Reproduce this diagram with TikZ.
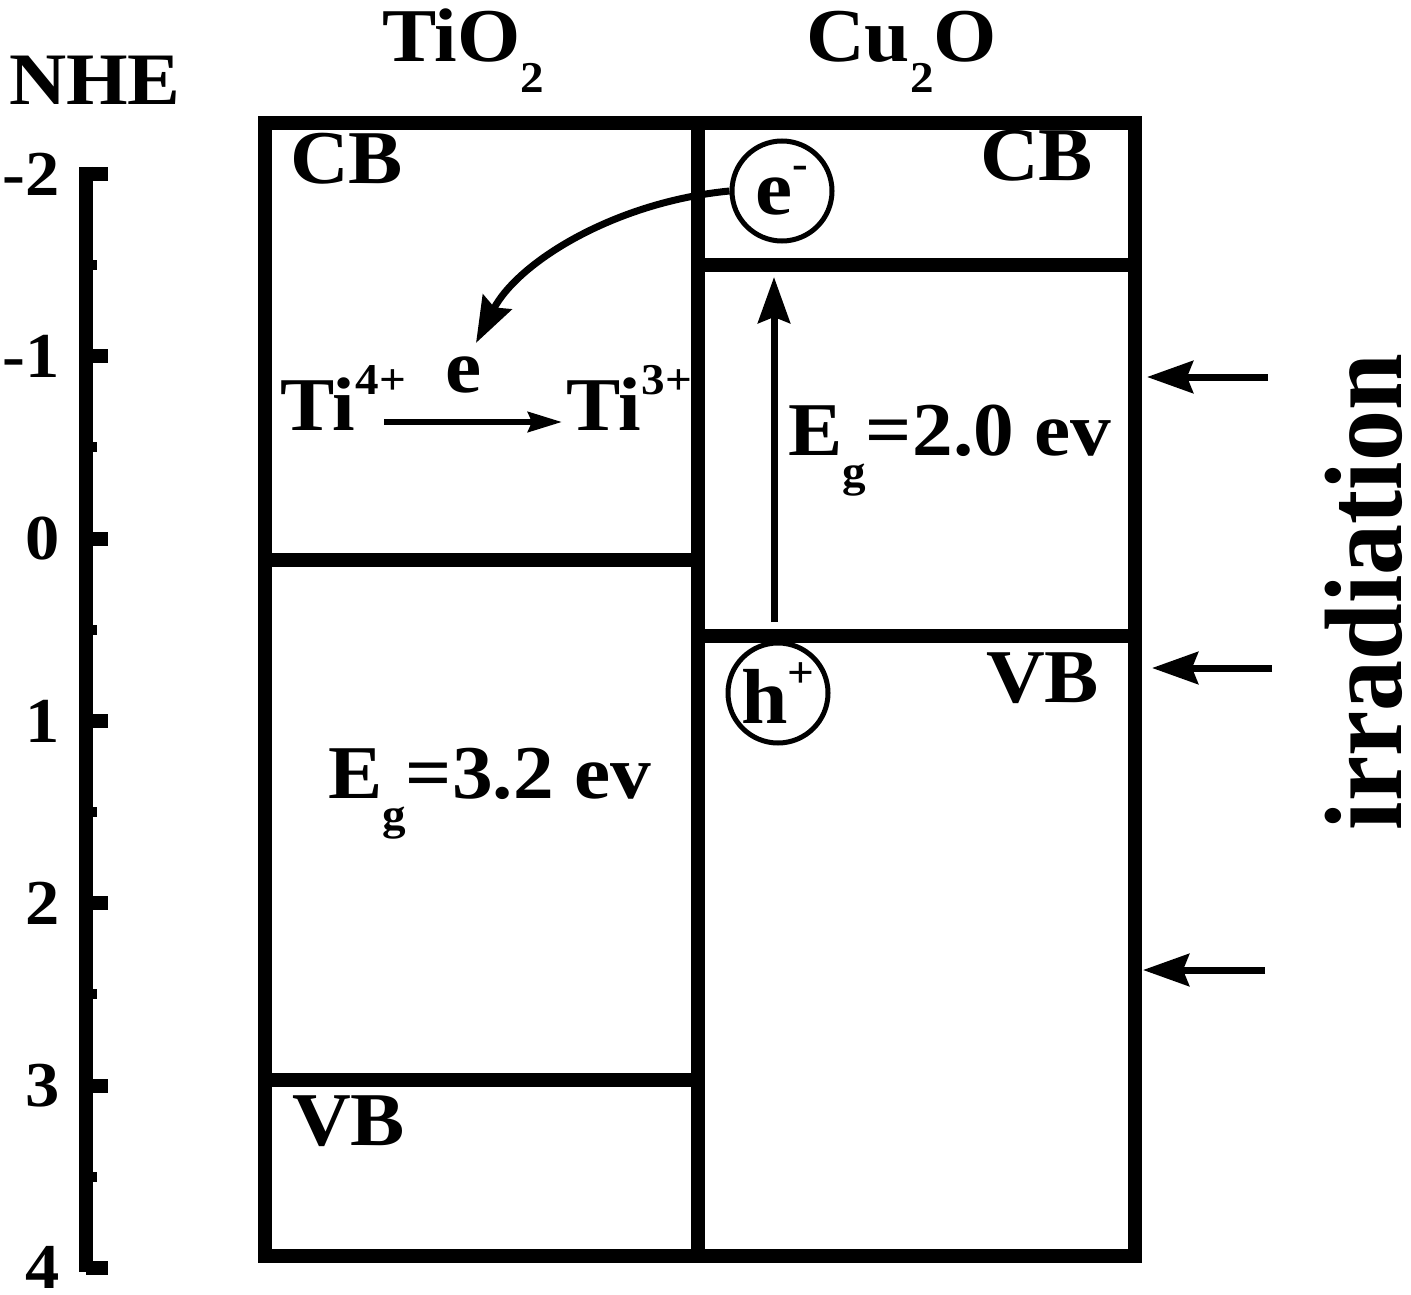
\documentclass[tikz,border=0pt]{standalone}
\usepackage{fontspec}
\usepackage{graphicx}
\setmainfont{Liberation Serif}[FakeStretch=1.07]
\newfontfamily\uprightfont{Liberation Serif}
\usetikzlibrary{arrows.meta,positioning}
\newcommand{\lowidx}[1]{\raisebox{-31pt}{\fontsize{44}{44}\selectfont #1}}
\newcommand{\highidx}[1]{\raisebox{36pt}{\fontsize{44}{44}\selectfont #1}}
\tikzstyle{band} = [line width=14pt]
\tikzstyle{bandtext} = [font=\fontsize{76}{76}\selectfont\bfseries, inner sep=0pt, anchor=base west]
\tikzstyle{scaletext} = [font=\fontsize{64}{64}\selectfont\bfseries, inner sep=0pt, anchor=east]
\tikzstyle{carrier} = [circle, draw, line width=5pt, minimum size=100pt, inner sep=0pt, font=\fontsize{78}{78}\selectfont\bfseries]
\tikzstyle{arrow} = [line width=7pt, -{Stealth[length=46pt,width=32pt,inset=6pt]}]
\tikzstyle{thinarrow} = [line width=6pt, -{Stealth[length=34pt,width=20pt,inset=4pt]}]
\begin{document}
\begin{tikzpicture}[x=1pt,y=-1pt]
\useasboundingbox (0,0) rectangle (1411,1295);
% NHE scale
\draw[band] (86,167) -- (86,1272);
\foreach \v [count=\i] in {-2,-1,0,1,2,3,4} {
  \draw[band] (86,{174+182.3*(\v+2)}) -- (108,{174+182.3*(\v+2)});
  \node[scaletext] (tick\i) at (60,{174+182.3*(\v+2)}) {\v};
}
\foreach \k in {0,...,5}
  \draw[line width=10pt] (86,{174+182.3*(\k+0.5)}) -- (97,{174+182.3*(\k+0.5)});
\node[bandtext, font=\fontsize{74}{74}\selectfont\bfseries] (nhe) at (9,105) {NHE};

% Bands
\draw[band] (265,123) rectangle (1135,1256);
\draw[band] (698,123) -- (698,1256);
\draw[band] (265,560) -- (698,560);
\draw[band] (265,1080) -- (698,1080);
\draw[band] (698,265) -- (1135,265);
\draw[band] (698,636) -- (1135,636);

% Titles
\node[bandtext] (tio2) at (382,62) {TiO\lowidx{2}};
\node[bandtext] (cu2o) at (806,62) {Cu\lowidx{2}O};

% TiO2 side
\node[bandtext] (tiocb) at (290,183) {CB};
\node[bandtext] (tiovb) at (292,1145) {VB};
\node[bandtext] (tiofour) at (280,430) {Ti\highidx{4+}};
\node[bandtext] (tithree) at (566,430) {Ti\highidx{3+}};
\node[bandtext] (eti) at (445,392) {e};
\node[bandtext] (tiogap) at (328,798) {E\lowidx{g}=3.2 ev};
\coordinate (tistart) at (384,422);
\coordinate (tiend) at (562,422);
\coordinate (etip) at (476,343);

% Cu2O side
\node[bandtext] (cucb) at (980,180) {CB};
\node[bandtext] (cuvb) at (986,702) {VB};
\node[bandtext] (cugap) at (788,455) {E\lowidx{g}=2.0 ev};
\node[carrier] (ecirc) at (782,191) {e\highidx{-}};
\node[carrier] (hcirc) at (778,693) {h\highidx{+}};
\coordinate (vbedge) at (774,622);
\coordinate (cbedge) at (774,277);

% Transfer
\draw[arrow] (ecirc.west) .. controls (615,202) and (518,262) .. (etip);
\draw[thinarrow] (tistart) -- (tiend);
\draw[arrow] (vbedge) -- (cbedge);

% Irradiation
\node[font=\fontsize{102}{102}\uprightfont\bfseries, inner sep=0pt, rotate=90, anchor=base] (light) at (1401,592) {\scalebox{1}[1.08]{irradiation}};
\coordinate (lighta) at (1268,377);
\coordinate (lightb) at (1272,668);
\coordinate (lightc) at (1265,970);
\draw[arrow] (lighta) -- (1147,377);
\draw[arrow] (lightb) -- (1152,668);
\draw[arrow] (lightc) -- (1143,970);
\end{tikzpicture}
\end{document}
